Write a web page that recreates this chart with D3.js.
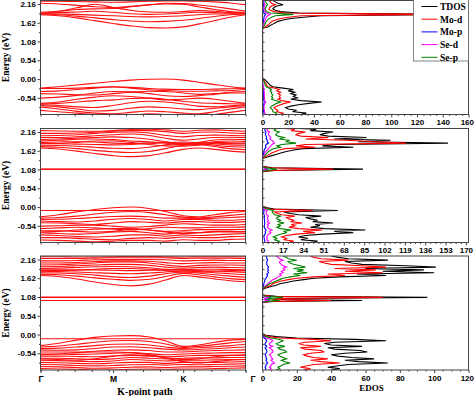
<!DOCTYPE html>
<html><head><meta charset="utf-8">
<script src="https://cdn.jsdelivr.net/npm/d3@7"></script>
<style>
html,body{margin:0;padding:0;background:#fff;}
svg{display:block;font-family:"Liberation Serif","Times New Roman",serif;font-weight:bold;}
</style></head><body>
<svg id="chart" width="474" height="396"></svg>
<script>
// ---------- DATA ----------
const kSamples = [0, 0.088, 0.177, 0.265, 0.354, 0.44, 0.53, 0.61, 0.696, 0.77, 0.85, 0.925, 1];
const kTickPos = [0, 0.354, 0.696, 1];
const kTickLabels = ["Γ", "M", "K", "Γ"];
const energyTicks = [-0.54, 0, 0.54, 1.08, 1.62, 2.16];
const dosNames = ["TDOS", "Mo-d", "Mo-p", "Se-d", "Se-p"];
const dosTicks1 = [0, 20, 40, 60, 80, 100, 120, 140, 160];
const dosTicks2 = [0, 17, 34, 51, 68, 85, 102, 119, 136, 153, 170];
const dosTicks3 = [0, 20, 40, 60, 80, 100, 120];

const bands1 = [
 [1.85,1.82,1.76,1.68,1.60,1.53,1.48,1.47,1.50,1.58,1.68,1.78,1.85],
 [1.87,1.85,1.81,1.76,1.71,1.67,1.65,1.66,1.69,1.74,1.80,1.85,1.87],
 [1.88,1.87,1.86,1.84,1.82,1.80,1.79,1.80,1.82,1.85,1.87,1.88,1.88],
 [1.90,1.91,1.93,1.95,1.92,1.88,1.86,1.87,1.90,1.92,1.91,1.90,1.90],
 [1.88,1.95,2.05,2.15,2.06,1.98,1.93,1.92,1.94,1.97,1.95,1.91,1.89],
 [1.92,1.95,2.00,2.02,2.03,2.08,2.14,2.16,2.15,2.08,2.00,1.94,1.92],
 [2.18,2.16,2.12,2.08,2.06,2.09,2.13,2.18,2.17,2.13,2.08,2.02,1.96],
 [2.24,2.24,2.23,2.22,2.21,2.22,2.24,2.25,2.25,2.24,2.22,2.19,2.14],
 [-0.26,-0.22,-0.17,-0.12,-0.07,-0.03,-0.005,0.0,-0.03,-0.09,-0.16,-0.22,-0.26],
 [-0.27,-0.27,-0.26,-0.24,-0.22,-0.24,-0.27,-0.29,-0.30,-0.30,-0.29,-0.28,-0.27],
 [-0.36,-0.34,-0.30,-0.26,-0.23,-0.26,-0.31,-0.33,-0.35,-0.35,-0.34,-0.33,-0.30],
 [-0.42,-0.43,-0.45,-0.46,-0.42,-0.38,-0.35,-0.36,-0.40,-0.44,-0.42,-0.38,-0.36],
 [-0.55,-0.52,-0.47,-0.40,-0.36,-0.37,-0.42,-0.48,-0.50,-0.48,-0.44,-0.40,-0.40],
 [-0.70,-0.66,-0.58,-0.52,-0.48,-0.50,-0.55,-0.60,-0.58,-0.55,-0.58,-0.64,-0.70],
 [-0.72,-0.70,-0.66,-0.62,-0.60,-0.56,-0.55,-0.58,-0.64,-0.68,-0.70,-0.71,-0.72],
 [-0.74,-0.76,-0.80,-0.82,-0.76,-0.68,-0.64,-0.66,-0.72,-0.78,-0.80,-0.77,-0.74],
 [-0.76,-0.80,-0.86,-0.92,-0.90,-0.84,-0.80,-0.82,-0.86,-0.88,-0.84,-0.80,-0.76],
 [-0.80,-0.86,-0.93,-0.98,-1.00,-0.96,-0.92,-0.94,-0.98,-1.00,-0.94,-0.86,-0.80],
 [-0.90,-0.94,-0.98,-1.03,-1.05,-1.04,-1.00,-1.02,-1.05,-1.06,-1.02,-0.96,-0.90]
];

const bands2 = [
 [1.70,1.67,1.61,1.54,1.48,1.45,1.48,1.56,1.66,1.70,1.66,1.61,1.58],
 [1.74,1.72,1.68,1.63,1.59,1.57,1.60,1.68,1.78,1.80,1.74,1.68,1.65],
 [1.78,1.77,1.75,1.72,1.69,1.68,1.72,1.79,1.84,1.83,1.78,1.74,1.72],
 [1.82,1.82,1.81,1.80,1.79,1.80,1.82,1.85,1.87,1.85,1.82,1.79,1.78],
 [1.86,1.87,1.88,1.87,1.84,1.83,1.85,1.87,1.82,1.84,1.86,1.85,1.84],
 [1.90,1.92,1.95,1.96,1.94,1.90,1.88,1.84,1.79,1.82,1.88,1.90,1.89],
 [1.94,1.96,1.98,2.00,2.02,2.00,1.95,1.88,1.80,1.86,1.93,1.95,1.94],
 [2.00,2.00,2.02,2.05,2.08,2.10,2.06,1.98,1.92,1.96,2.00,2.01,2.00],
 [2.05,2.06,2.08,2.12,2.15,2.16,2.13,2.06,2.02,2.06,2.07,2.06,2.05],
 [2.12,2.12,2.13,2.15,2.18,2.20,2.20,2.17,2.12,2.15,2.16,2.13,2.12],
 [2.20,2.19,2.18,2.18,2.20,2.23,2.24,2.22,2.18,2.21,2.22,2.20,2.18],
 [1.84,1.83,1.86,1.90,1.90,1.86,1.80,1.76,1.75,1.78,1.82,1.83,1.82],
 [1.095,1.095,1.095,1.095,1.095,1.095,1.095,1.095,1.095,1.095,1.095,1.095,1.095],
 [1.085,1.085,1.085,1.085,1.085,1.085,1.085,1.085,1.085,1.085,1.085,1.085,1.085],
 [-0.10,-0.10,-0.10,-0.10,-0.10,-0.10,-0.10,-0.10,-0.10,-0.10,-0.10,-0.10,-0.10],
 [-0.28,-0.22,-0.14,-0.07,-0.02,0.00,-0.04,-0.13,-0.25,-0.28,-0.22,-0.16,-0.12],
 [-0.32,-0.30,-0.26,-0.20,-0.15,-0.13,-0.16,-0.22,-0.29,-0.31,-0.28,-0.24,-0.20],
 [-0.36,-0.35,-0.33,-0.30,-0.27,-0.26,-0.28,-0.32,-0.32,-0.33,-0.32,-0.30,-0.28],
 [-0.40,-0.42,-0.43,-0.40,-0.35,-0.33,-0.36,-0.40,-0.36,-0.36,-0.38,-0.38,-0.36],
 [-0.45,-0.46,-0.48,-0.50,-0.46,-0.42,-0.44,-0.46,-0.42,-0.42,-0.44,-0.44,-0.42],
 [-0.55,-0.54,-0.52,-0.52,-0.55,-0.58,-0.56,-0.52,-0.48,-0.50,-0.52,-0.52,-0.50],
 [-0.62,-0.60,-0.58,-0.60,-0.63,-0.66,-0.62,-0.58,-0.60,-0.60,-0.58,-0.58,-0.57],
 [-0.68,-0.68,-0.70,-0.72,-0.70,-0.64,-0.66,-0.70,-0.68,-0.65,-0.65,-0.65,-0.64],
 [-0.74,-0.76,-0.78,-0.76,-0.72,-0.70,-0.74,-0.78,-0.72,-0.74,-0.72,-0.72,-0.70],
 [-0.80,-0.82,-0.85,-0.86,-0.84,-0.80,-0.80,-0.84,-0.80,-0.82,-0.80,-0.78,-0.76],
 [-0.88,-0.88,-0.90,-0.93,-0.94,-0.90,-0.88,-0.90,-0.86,-0.88,-0.88,-0.85,-0.84],
 [-0.95,-0.96,-0.98,-1.00,-0.98,-0.96,-0.96,-0.98,-0.94,-0.96,-0.96,-0.93,-0.92],
 [-0.72,-0.70,-0.66,-0.64,-0.62,-0.62,-0.66,-0.72,-0.76,-0.74,-0.70,-0.70,-0.72]
];

const bands3 = [
 [1.70,1.67,1.60,1.51,1.44,1.40,1.45,1.57,1.70,1.66,1.60,1.55,1.52],
 [1.74,1.72,1.68,1.63,1.59,1.56,1.59,1.67,1.76,1.72,1.66,1.61,1.58],
 [1.78,1.77,1.75,1.71,1.66,1.64,1.68,1.75,1.80,1.77,1.72,1.68,1.65],
 [1.82,1.81,1.80,1.78,1.76,1.75,1.77,1.80,1.83,1.81,1.78,1.75,1.72],
 [1.86,1.86,1.86,1.86,1.85,1.84,1.85,1.86,1.85,1.84,1.83,1.81,1.79],
 [1.90,1.91,1.93,1.95,1.96,1.95,1.92,1.88,1.87,1.88,1.88,1.87,1.86],
 [1.95,1.96,1.98,2.00,2.02,2.02,1.99,1.94,1.91,1.93,1.94,1.93,1.92],
 [2.00,2.01,2.03,2.06,2.09,2.09,2.06,2.00,1.96,1.99,2.00,2.00,1.99],
 [2.06,2.06,2.07,2.10,2.12,2.12,2.11,2.07,2.04,2.06,2.07,2.06,2.06],
 [2.12,2.12,2.13,2.15,2.16,2.16,2.16,2.15,2.12,2.13,2.14,2.13,2.13],
 [2.19,2.19,2.19,2.20,2.21,2.21,2.21,2.21,2.19,2.20,2.20,2.20,2.19],
 [2.24,2.24,2.23,2.23,2.24,2.25,2.25,2.24,2.23,2.24,2.24,2.24,2.24],
 [1.84,1.84,1.85,1.88,1.90,1.90,1.88,1.84,1.80,1.80,1.82,1.84,1.84],
 [1.08,1.08,1.08,1.08,1.08,1.08,1.08,1.08,1.08,1.08,1.08,1.08,1.08],
 [1.065,1.065,1.065,1.065,1.065,1.065,1.065,1.065,1.065,1.065,1.065,1.065,1.065],
 [0.98,0.98,0.98,0.98,0.98,0.98,0.98,0.98,0.98,0.98,0.98,0.98,0.98],
 [-0.12,-0.12,-0.12,-0.12,-0.12,-0.12,-0.12,-0.12,-0.12,-0.12,-0.12,-0.12,-0.12],
 [-0.32,-0.25,-0.16,-0.08,-0.04,-0.03,-0.07,-0.18,-0.34,-0.30,-0.22,-0.16,-0.14],
 [-0.36,-0.33,-0.28,-0.22,-0.18,-0.17,-0.20,-0.27,-0.37,-0.34,-0.29,-0.24,-0.20],
 [-0.40,-0.39,-0.36,-0.32,-0.28,-0.27,-0.30,-0.36,-0.40,-0.38,-0.35,-0.32,-0.28],
 [-0.44,-0.45,-0.44,-0.40,-0.36,-0.35,-0.38,-0.42,-0.44,-0.43,-0.41,-0.38,-0.36],
 [-0.50,-0.50,-0.50,-0.48,-0.45,-0.44,-0.46,-0.50,-0.50,-0.48,-0.46,-0.45,-0.44],
 [-0.56,-0.56,-0.57,-0.56,-0.54,-0.52,-0.55,-0.58,-0.56,-0.54,-0.53,-0.52,-0.52],
 [-0.62,-0.62,-0.63,-0.64,-0.62,-0.60,-0.62,-0.64,-0.62,-0.60,-0.60,-0.60,-0.60],
 [-0.68,-0.68,-0.70,-0.72,-0.70,-0.66,-0.68,-0.70,-0.68,-0.67,-0.67,-0.66,-0.66],
 [-0.74,-0.75,-0.77,-0.78,-0.76,-0.72,-0.74,-0.76,-0.74,-0.74,-0.73,-0.72,-0.72],
 [-0.80,-0.81,-0.83,-0.84,-0.82,-0.80,-0.80,-0.83,-0.80,-0.80,-0.80,-0.79,-0.78],
 [-0.86,-0.87,-0.89,-0.90,-0.89,-0.87,-0.86,-0.88,-0.86,-0.87,-0.86,-0.85,-0.84],
 [-0.92,-0.93,-0.95,-0.97,-0.96,-0.94,-0.93,-0.95,-0.93,-0.93,-0.92,-0.91,-0.90],
 [-0.98,-0.99,-1.00,-1.02,-1.02,-1.00,-0.99,-1.00,-0.99,-0.99,-0.98,-0.97,-0.96],
 [-0.58,-0.56,-0.52,-0.50,-0.50,-0.52,-0.58,-0.66,-0.72,-0.70,-0.64,-0.60,-0.58],
 [-0.70,-0.72,-0.74,-0.70,-0.62,-0.58,-0.60,-0.68,-0.78,-0.82,-0.78,-0.74,-0.72]
];

// DOS panel 1
const dosE1 = [-1.02,-0.98,-0.94,-0.90,-0.86,-0.82,-0.78,-0.74,-0.70,-0.66,-0.62,-0.58,-0.54,-0.50,-0.46,-0.42,-0.38,-0.34,-0.30,-0.26,-0.22,-0.18,-0.14,-0.10,-0.06,-0.02,0.02,0.06,
 1.42,1.46,1.50,1.54,1.58,1.62,1.66,1.70,1.74,1.78,1.82,1.86,1.90,1.94,1.98,2.02,2.06,2.10,2.14,2.18,2.22,2.26];
const tdos1 = [30,34,24,26,20,18,22,28,36,46,30,22,27,24,26,22,25,20,24,16,8,6,5,4,3,2,0,0,
 0,0,4,6,8,10,12,16,22,32,45,150,28,14,10,8,9,11,16,12,10,8];
const mod1 = [14,16,11,12,10,9,11,14,17,22,15,12,14,13,14,12,14,11,13,9,4,3,3,2,1.5,1,0,0,
 0,0,2.5,3.5,5,6,7.5,10,14,20,30,138,18,9,6,5,5.5,7,10,7,6,5];
const mop1 = [1,1.2,0.8,0.8,0.7,0.6,0.7,0.9,1.1,1.4,1,0.7,0.8,0.7,0.8,0.7,0.8,0.6,0.7,0.5,0.3,0.2,0.2,0.1,0.1,0.05,0,0,
 0,0,0.3,0.4,0.5,0.6,0.7,0.8,1,1.2,1.5,2.5,1.2,0.8,0.6,0.5,0.5,0.6,0.8,0.6,0.5,0.4];
const sed1 = [2,2,1.5,1.5,1.2,1,1.2,1.5,2,2.5,1.8,1.3,1.5,1.4,1.5,1.3,1.4,1.2,1.3,1,0.6,0.4,0.3,0.2,0.2,0.1,0,0,
 0,0,0.5,0.8,1,1.2,1.5,2,2.5,3,4,6,3,2,1.5,1.2,1.3,1.5,2,1.5,1.2,1];
const sep1 = [10,11,8,8,7,6,7,9,11,14,10,7,8,7,8,7,7,6,7,5,3,2,2,1.5,1,0.5,0,0,
 0,0,1,1.5,2,2.5,3,4,5,7,10,24,6,3,2.5,2,2.5,3,4,3,2.5,2];

// DOS panel 2
const dosE2 = [-1.02,-0.98,-0.94,-0.90,-0.86,-0.82,-0.78,-0.74,-0.70,-0.66,-0.62,-0.58,-0.54,-0.50,-0.46,-0.42,-0.38,-0.34,-0.30,-0.26,-0.22,-0.18,-0.14,-0.10,-0.06,-0.02,0.02,0.06,
 1.02,1.05,1.09,1.13,1.17,
 1.40,1.44,1.48,1.52,1.56,1.60,1.64,1.68,1.72,1.76,1.80,1.84,1.88,1.92,1.96,2.00,2.04,2.08,2.12,2.16,2.20,2.24,2.26];
const tdos2 = [40,46,32,38,30,36,50,76,60,86,52,40,48,44,59,42,46,40,36,49,30,22,18,63,10,4,0,0,
 0,10,84,8,0,
 0,4,8,12,16,20,26,34,76,50,62,155,80,107,60,87,55,48,52,59,40,45,30];
const mod2 = [22,26,18,20,16,20,28,44,34,50,30,22,27,24,33,24,26,22,20,27,16,12,10,42,5,2,0,0,
 0,7,59,5,0,
 0,2,4,6,8,11,14,19,44,28,36,120,94,70,36,55,32,28,30,36,24,27,18];
const mop2 = [1.5,2,1.5,1.5,1.2,1.5,2,2.5,2.2,3,2,1.5,1.8,1.6,2,1.6,1.8,1.5,1.5,1.8,1.2,1,1,1.5,0.5,0.2,0,0,
 0,1,4,1,0,
 0,0.3,0.5,0.8,1,1.2,1.5,2,3,2.5,3,5,4,4,3,3.5,3,2.5,2.5,3,2,2,1.5];
const sed2 = [4,5,3.5,4,3.5,4,5,7,6,8,5,4,5,4,6,4,5,4,4,5,3.5,3,3,4,1.5,0.5,0,0,
 0,1,3,1,0,
 0,0.5,1,1.5,2,3,4,5,6,7,8,10,9,8,6,7,6,5,5,6,4,4,3];
const sep2 = [12,14,10,12,9,12,15,20,18,24,15,12,15,13,18,13,15,12,12,15,10,9,8,9,4,1.5,0,0,
 0,3,12,2,0,
 0,1,2,3,4,5,7,9,15,12,16,28,20,22,14,18,13,11,12,14,10,11,8];

// DOS panel 3
const dosE3 = [-1.02,-0.98,-0.94,-0.90,-0.86,-0.82,-0.78,-0.74,-0.70,-0.66,-0.62,-0.58,-0.54,-0.50,-0.46,-0.42,-0.38,-0.34,-0.30,-0.26,-0.22,-0.18,-0.14,-0.10,-0.06,-0.02,0.02,0.06,
 0.92,0.95,0.98,1.01,1.04,1.07,1.10,1.14,
 1.30,1.34,1.38,1.42,1.46,1.50,1.54,1.58,1.62,1.66,1.70,1.74,1.78,1.82,1.86,1.90,1.94,1.98,2.02,2.06,2.10,2.14,2.18,2.22,2.26];
const tdos3 = [40,45,38,44,50,73,56,48,65,52,44,40,48,61,57,42,38,58,40,36,42,72,54,20,8,2,0,0,
 0,6,58,10,14,96,8,0,
 0,2,5,8,10,14,18,24,30,45,72,55,100,70,94,60,101,84,58,52,48,73,50,44,40];
const mod3 = [24,28,22,26,30,45,34,28,38,30,26,24,28,36,34,25,22,34,24,21,25,40,30,10,4,1,0,0,
 0,4,40,6,9,70,5,0,
 0,1,3,5,6,8,11,15,20,30,48,38,70,48,66,42,72,58,40,36,33,50,34,30,28];
const mop3 = [1.5,2,1.5,2,2,3,2.5,2,2.5,2,2,1.5,2,2.5,2.5,2,1.5,2.5,1.5,1.5,2,2.5,2,1,0.5,0.1,0,0,
 0,1,4,1,1.5,5,1,0,
 0,0.2,0.4,0.6,0.8,1,1.2,1.5,2,2.5,3,2.5,3.5,3,3.5,3,3.5,3,2.5,2.5,2.5,3,2.5,2.5,2];
const sed3 = [4,5,4,5,5,7,6,5,6,5,5,4,5,6,6,5,4,6,4,4,5,6,5,2,1,0.3,0,0,
 0,1,3,1,1.5,4,1,0,
 0,0.3,1,2,3,4,5,6,8,9,11,10,12,11,13,12,14,12,11,10,10,12,10,9,8];
const sep3 = [8,10,9,11,12,16,13,11,14,12,10,9,11,14,13,10,9,13,9,8,10,12,10,5,2,0.5,0,0,
 0,2,10,3,4,12,2,0,
 0,0.5,1.5,3,4,6,8,10,12,16,22,18,26,20,24,18,25,22,18,16,15,20,15,14,12];

// ---------- DRAWING ----------
const dosColors = ["#000000", "#ff0000", "#0000ff", "#ff00ff", "#008000"];
const svg = d3.select("#chart");
const frameColor = "#444";
const bandX0 = 40.5, bandX1 = 245.5, dosX0 = 262.5, dosX1 = 468.5;
const panels = [
  {top: 0.5, bottom: 114.5, bands: bands1, E: dosE1, series: [tdos1, mod1, mop1, sed1, sep1], dmax: 160, ticks: dosTicks1, clip: "c1"},
  {top: 128.5, bottom: 242.5, bands: bands2, E: dosE2, series: [tdos2, mod2, mop2, sed2, sep2], dmax: 172.2, ticks: dosTicks2, clip: "c2"},
  {top: 256, bottom: 370, bands: bands3, E: dosE3, series: [tdos3, mod3, mop3, sed3, sep3], dmax: 120, ticks: dosTicks3, clip: "c3"}
];

const kx = d3.scaleLinear().domain([0, 1]).range([bandX0, bandX1]);
const defs = svg.append("defs");

panels.forEach((p, pi) => {
  const y = d3.scaleLinear().domain([-1.02, 2.26]).range([p.bottom, p.top]);
  const xd = d3.scaleLinear().domain([0, p.dmax]).range([dosX0, dosX1]);

  defs.append("clipPath").attr("id", p.clip + "b").append("rect")
    .attr("x", bandX0).attr("y", p.top).attr("width", bandX1 - bandX0).attr("height", p.bottom - p.top);
  defs.append("clipPath").attr("id", p.clip + "d").append("rect")
    .attr("x", dosX0).attr("y", p.top).attr("width", dosX1 - dosX0).attr("height", p.bottom - p.top);

  // bands
  const bl = d3.line().x((d, i) => kx(kSamples[i])).y(d => y(d)).curve(d3.curveMonotoneX);
  svg.append("g").attr("clip-path", `url(#${p.clip}b)`)
    .selectAll("path").data(p.bands).join("path")
    .attr("d", bl).attr("fill", "none").attr("stroke", "#ff1010").attr("stroke-width", 1.1);

  // DOS
  const dl = d3.line().x(d => xd(d[1])).y(d => y(d[0]));
  const gD = svg.append("g").attr("clip-path", `url(#${p.clip}d)`);
  p.series.forEach((s, si) => {
    const pts = p.E.map((e, i) => [e, s[i]]);
    gD.append("path").datum(pts).attr("d", dl).attr("fill", "none")
      .attr("stroke", dosColors[si]).attr("stroke-width", 1.1);
  });

  // left axis
  const minorE = energyTicks.map(t => t - 0.27).concat([energyTicks[energyTicks.length - 1] + 0.27 - 0.54 + 0.54]).filter(t => t > -1.02 && t < 2.26);
  const ay = svg.append("g").attr("transform", `translate(${bandX0},0)`)
    .call(d3.axisLeft(y).tickValues(energyTicks).tickFormat(d => d.toFixed(2)).tickSize(3).tickPadding(1.5));
  ay.select(".domain").remove();
  ay.selectAll("text").attr("font-size", 8).attr("font-weight", "bold").attr("fill", "#000");
  ay.selectAll("line").attr("stroke", frameColor);
  const aym = svg.append("g").attr("transform", `translate(${bandX0},0)`)
    .call(d3.axisLeft(y).tickValues(minorE).tickFormat("").tickSize(1.5));
  aym.select(".domain").remove();
  aym.selectAll("line").attr("stroke", frameColor);

  // band bottom axis
  const ab = svg.append("g").attr("transform", `translate(0,${p.bottom})`)
    .call(d3.axisBottom(kx).tickValues(d3.range(13).map(i => i / 12)).tickFormat("").tickSize(2));
  ab.select(".domain").remove();
  ab.selectAll("line").attr("stroke", frameColor);
  if (pi === 2) {
    const al = svg.append("g").attr("transform", `translate(0,${p.bottom})`)
      .call(d3.axisBottom(kx).tickValues(kTickPos).tickFormat((d, i) => kTickLabels[i]).tickSize(3).tickPadding(3));
    al.select(".domain").remove();
    al.selectAll("line").attr("stroke", frameColor);
    al.selectAll("text").attr("font-size", 8.5).attr("font-weight", "bold").attr("fill", "#000");
    al.selectAll("text").filter((d, i) => i === 3).attr("dx", 7);
  }

  // DOS y axis (inner ticks)
  const ady = svg.append("g").attr("transform", `translate(${dosX0},0)`)
    .call(d3.axisRight(y).tickValues(energyTicks.concat(minorE)).tickFormat("").tickSize(2));
  ady.select(".domain").remove();
  ady.selectAll("line").attr("stroke", frameColor);

  // DOS bottom axis
  const adx = svg.append("g").attr("transform", `translate(0,${p.bottom})`)
    .call(d3.axisBottom(xd).tickValues(p.ticks).tickSize(3).tickPadding(2));
  adx.select(".domain").remove();
  adx.selectAll("line").attr("stroke", frameColor);
  adx.selectAll("text").attr("font-size", 8).attr("font-weight", "bold").attr("fill", "#000");
  adx.selectAll("text").filter(d => xd(d) > 467).attr("text-anchor", "end").attr("dx", 5);
  const step = p.ticks[1] - p.ticks[0];
  const minorX = [];
  p.ticks.slice(0, -1).forEach(t => { for (let j = 1; j < 4; j++) minorX.push(t + j * step / 4); });
  const adxm = svg.append("g").attr("transform", `translate(0,${p.bottom})`)
    .call(d3.axisBottom(xd).tickValues(minorX).tickFormat("").tickSize(1.5));
  adxm.select(".domain").remove();
  adxm.selectAll("line").attr("stroke", frameColor);

  // frames
  svg.append("rect").attr("x", bandX0).attr("y", p.top).attr("width", bandX1 - bandX0).attr("height", p.bottom - p.top)
    .attr("fill", "none").attr("stroke", frameColor).attr("stroke-width", 1);
  svg.append("rect").attr("x", dosX0).attr("y", p.top).attr("width", dosX1 - dosX0).attr("height", p.bottom - p.top)
    .attr("fill", "none").attr("stroke", frameColor).attr("stroke-width", 1);

  // y title
  svg.append("text").attr("transform", `translate(9,${(p.top + p.bottom) / 2}) rotate(-90)`)
    .attr("text-anchor", "middle").attr("font-size", 9.5).attr("font-weight", "bold").text("Energy (eV)");
});

// x titles
svg.append("text").attr("x", 145).attr("y", 395).attr("text-anchor", "middle").attr("font-size", 10)
  .attr("font-weight", "bold").text("K-point path");
svg.append("text").attr("x", 371.5).attr("y", 390.5).attr("text-anchor", "middle").attr("font-size", 9)
  .attr("font-weight", "bold").text("EDOS");

// legend
const lg = svg.append("g");
lg.append("rect").attr("x", 413.5).attr("y", -2).attr("width", 55).attr("height", 63)
  .attr("fill", "#fff").attr("stroke", "#666").attr("stroke-width", 0.8);
dosNames.forEach((n, i) => {
  const yy = 6.5 + i * 12.7;
  lg.append("line").attr("x1", 421.5).attr("x2", 437.5).attr("y1", yy).attr("y2", yy)
    .attr("stroke", dosColors[i]).attr("stroke-width", 1);
  lg.append("text").attr("x", 440).attr("y", yy).attr("dy", "0.35em").attr("font-size", 9.5)
    .attr("font-weight", "bold").text(n);
});
</script>
</body></html>
